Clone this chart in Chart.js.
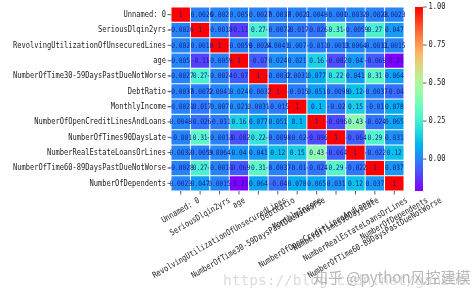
<!DOCTYPE html>
<html>
<head>
<meta charset="utf-8">
<script src="https://cdn.jsdelivr.net/npm/chart.js@4.4.0/dist/chart.umd.min.js"></script>
<style>
  body { margin: 0; background: #fff; }
  #wrap { width: 474px; height: 298px; }
</style>
</head>
<body>
<div id="wrap"><canvas id="heat" width="474" height="298"></canvas></div>
<script>
// column / row names of the correlation matrix
const labels = [
  "Unnamed: 0", "SeriousDlqin2yrs", "RevolvingUtilizationOfUnsecuredLines", "age",
  "NumberOfTime30-59DaysPastDueNotWorse", "DebtRatio", "MonthlyIncome",
  "NumberOfOpenCreditLinesAndLoans", "NumberOfTimes90DaysLate",
  "NumberRealEstateLoansOrLines", "NumberOfTime60-89DaysPastDueNotWorse", "NumberOfDependents"
];

// correlation values, one row per label
const corrRows = [
  [1, -0.0026, 0.0020, 0.0050, -0.0027, -0.0037, -0.0021, 0.0048, -0.0010, 0.0032, -0.0028, 0.0023],
  [-0.0026, 1, -0.0018, -0.11, 0.27, -0.0072, -0.017, -0.026, 0.31, -0.0059, 0.27, 0.047],
  [0.0020, -0.0018, 1, -0.0059, -0.0024, 0.0041, 0.0070, -0.011, -0.0013, 0.0064, -0.0011, 0.0015],
  [0.0050, -0.11, -0.0059, 1, -0.07, 0.024, 0.021, 0.16, -0.082, 0.04, -0.069, -0.21],
  [-0.0027, 0.27, -0.0024, -0.07, 1, -0.0032, 0.0031, 0.077, 0.22, 0.041, 0.31, 0.064],
  [-0.0037, -0.0072, 0.0041, 0.024, -0.0032, 1, -0.015, 0.051, -0.0098, 0.12, -0.0037, -0.04],
  [-0.0021, -0.017, 0.0070, 0.021, 0.0031, -0.015, 1, 0.1, -0.02, 0.15, -0.01, 0.078],
  [0.0048, -0.026, -0.011, 0.16, 0.077, 0.051, 0.1, 1, -0.096, 0.43, -0.024, 0.065],
  [-0.0010, 0.31, -0.0013, -0.082, 0.22, -0.0098, -0.02, -0.096, 1, -0.064, 0.29, 0.031],
  [0.0032, -0.0059, 0.0064, 0.04, 0.041, 0.12, 0.15, 0.43, -0.064, 1, -0.022, 0.12],
  [-0.0028, 0.27, -0.0011, -0.069, 0.31, -0.0037, -0.01, -0.024, 0.29, -0.022, 1, 0.037],
  [0.0023, 0.047, 0.0015, -0.21, 0.064, -0.04, 0.078, 0.065, 0.031, 0.12, 0.037, 1]
];

// colorbar ticks
const cbTicks = [0, 0.25, 0.5, 0.75, 1.0];

const vmin = -0.21;
const vmax = 1;

// matplotlib "rainbow" colormap
function rainbow(v) {
  let t = (v - vmin) / (vmax - vmin);
  t = Math.max(0, Math.min(1, t));
  const r = Math.min(1, Math.abs(2 * t - 0.5));
  const g = Math.sin(Math.PI * t);
  const b = Math.cos(Math.PI * t / 2);
  return `rgb(${Math.round(r * 255)},${Math.round(g * 255)},${Math.round(b * 255)})`;
}

// like python's '.2g'
function fmt(v) {
  return String(Number(v.toPrecision(2)));
}

const SX = 0.83; // squeeze monospace glyphs to look like SimHei half-width

function squeezedText(ctx, txt, x, y, size, align) {
  ctx.save();
  ctx.translate(x, y);
  ctx.scale(SX, 1);
  ctx.font = size + 'px "DejaVu Sans Mono"';
  ctx.textAlign = align;
  ctx.textBaseline = "middle";
  ctx.fillText(txt, 0, 0);
  ctx.restore();
}

const datasets = corrRows.map((row, i) => ({
  data: row.map(() => [i, i + 1]),
  backgroundColor: row.map(v => rainbow(v)),
  borderColor: "#ffffff",
  borderWidth: 0.8,
  borderSkipped: false,
  grouped: false,
  categoryPercentage: 1,
  barPercentage: 1
}));

const decorations = {
  id: "decorations",
  afterDatasetsDraw(chart) {
    const ctx = chart.ctx;
    const xs = chart.scales.x;
    const ys = chart.scales.y;
    const area = chart.chartArea;

    // cell annotations
    ctx.fillStyle = "rgb(22,32,150)";
    corrRows.forEach((row, i) => {
      const meta = chart.getDatasetMeta(i);
      row.forEach((v, j) => {
        const bar = meta.data[j];
        squeezedText(ctx, fmt(v), bar.x, (bar.y + bar.base) / 2 + 0.5, 7.5, "center");
      });
    });

    // y tick marks and labels
    ctx.strokeStyle = "#333";
    ctx.lineWidth = 0.8;
    ctx.fillStyle = "#222";
    labels.forEach((lab, i) => {
      const y = ys.getPixelForValue(i + 0.5);
      ctx.beginPath();
      ctx.moveTo(area.left - 3.5, y);
      ctx.lineTo(area.left, y);
      ctx.stroke();
      squeezedText(ctx, lab, area.left - 5, y, 8.5, "right");
    });

    // x tick marks and rotated labels
    const ang = Math.PI / 6;
    labels.forEach((lab, j) => {
      const x = xs.getPixelForValue(j);
      ctx.beginPath();
      ctx.moveTo(x, area.bottom);
      ctx.lineTo(x, area.bottom + 3.5);
      ctx.stroke();
      ctx.font = '8.5px "DejaVu Sans Mono"';
      const w = ctx.measureText(lab).width * SX;
      const h = 8;
      const bh = w * Math.sin(ang) + h * Math.cos(ang);
      const cy = area.bottom + 5.5 + bh / 2;
      ctx.save();
      ctx.translate(x, cy);
      ctx.rotate(-ang);
      ctx.scale(SX, 1);
      ctx.textAlign = "center";
      ctx.textBaseline = "middle";
      ctx.fillText(lab, 0, 0);
      ctx.restore();
    });

    // colorbar
    const cb = chart.scales.cb;
    const cbLeft = 415, cbRight = 423;
    const yTop = cb.getPixelForValue(vmax);
    const yBot = cb.getPixelForValue(vmin);
    const grad = ctx.createLinearGradient(0, yBot, 0, yTop);
    for (let k = 0; k <= 40; k++) {
      grad.addColorStop(k / 40, rainbow(vmin + (vmax - vmin) * k / 40));
    }
    ctx.fillStyle = grad;
    ctx.fillRect(cbLeft, yTop, cbRight - cbLeft, yBot - yTop);

    ctx.fillStyle = "#222";
    cbTicks.forEach(t => {
      const y = cb.getPixelForValue(t);
      ctx.beginPath();
      ctx.moveTo(cbRight, y);
      ctx.lineTo(cbRight + 3.5, y);
      ctx.stroke();
      squeezedText(ctx, t.toFixed(2), cbRight + 5.5, y, 8.5, "left");
    });

    // watermarks
    ctx.save();
    ctx.fillStyle = "rgba(190,190,190,0.55)";
    ctx.font = '14.5px "DejaVu Sans Mono"';
    ctx.textAlign = "left";
    ctx.textBaseline = "alphabetic";
    ctx.fillText("https://blog.csdn.net/ganzoe", 223, 285);
    ctx.fillStyle = "rgba(160,160,160,0.75)";
    ctx.font = '15px "Noto Sans CJK SC"';
    ctx.fillText("知乎 @python风控建模", 313, 283);
    ctx.restore();
  }
};

new Chart(document.getElementById("heat"), {
  type: "bar",
  data: { labels: labels, datasets: datasets },
  options: {
    responsive: false,
    animation: false,
    devicePixelRatio: 1,
    layout: { padding: { left: 171, top: 7, right: 70, bottom: 107 } },
    plugins: { legend: { display: false }, tooltip: { enabled: false } },
    scales: {
      x: { type: "category", display: false, offset: true },
      y: { type: "linear", display: false, min: 0, max: 12, reverse: true },
      cb: { type: "linear", axis: "y", display: false, min: vmin, max: vmax }
    }
  },
  plugins: [decorations]
});
</script>
</body>
</html>
